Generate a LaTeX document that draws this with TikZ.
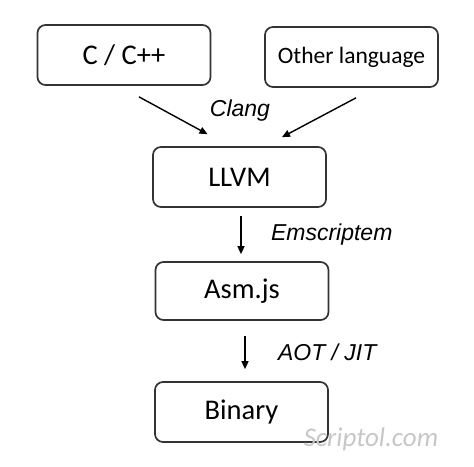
\documentclass[tikz,border=0pt]{standalone}
\usepackage{fontspec}
\setmainfont{Carlito}
\newfontfamily\labelfont{Liberation Sans}
\usetikzlibrary{arrows.meta}
\tikzset{
	stage/.style={draw=black!80, line width=1.7pt, rounded corners=8pt,
		minimum width=173pt, minimum height=60pt, inner sep=0pt,
		font=\fontsize{28.5}{31}\selectfont},
	tool/.style={font=\labelfont\itshape\fontsize{23}{26}\selectfont},
	flow/.style={line width=1.4pt, -{Triangle[length=8pt,width=7pt]}}
}

\begin{document}
\begin{tikzpicture}[x=1pt,y=-1pt]
			\useasboundingbox (0,0) rectangle (474,466);
			\node[stage] (csrc) at (124,55) {C / C++};
			\node[stage, font=\fontsize{23.5}{27}\selectfont] (other) at (351.5,57) {Other language};
			\node[stage] (llvm) at (239.5,177) {LLVM};
			\node[stage, minimum height=58pt] (asmjs) at (242,291) {Asm.js};
			\node[stage] (binary) at (241.5,412) {Binary};
			\node[tool] (clang) at (240,111) {Clang};
			\node[text=black!22, font=\itshape\fontsize{27}{30}\selectfont] (mark) at (371,439) {Scriptol.com};
			\path[flow]
			([shift={(15,11)}]csrc.south) edge ([shift={(-32,-12)}]llvm.north)
			([shift={(4.5,10)}]other.south) edge ([shift={(42.5,-9)}]llvm.north)
			([shift={(1.5,8)}]llvm.south) edge node[tool, right=26pt]{Emscriptem} ([shift={(1.5,-7)}]llvm.south |- asmjs.north)
			([shift={(3,15)}]asmjs.south) edge node[tool, right=29pt]{AOT / JIT} ([shift={(3,-12)}]asmjs.south |- binary.north);
		\end{tikzpicture}
\end{document}
